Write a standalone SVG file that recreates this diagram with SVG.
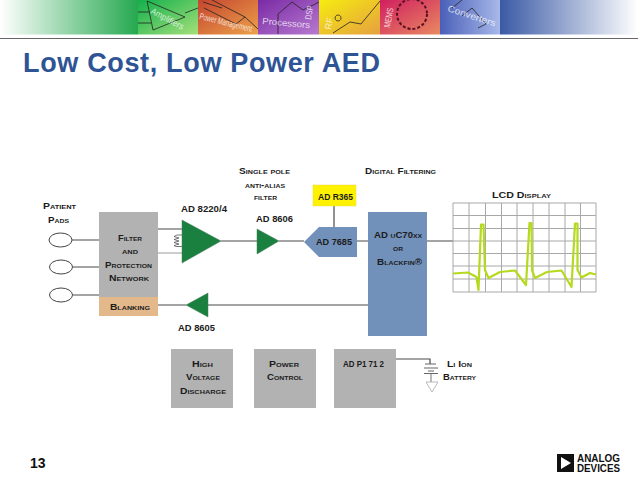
<svg xmlns="http://www.w3.org/2000/svg" width="638" height="478" viewBox="0 0 638 478">
<style>
text{font-family:"Liberation Sans",Arial,sans-serif}
.l{font-size:8.5px;font-weight:700;font-variant:small-caps;fill:#1c1c1c;text-anchor:start}
.b{fill:#b2b2b2}
.g{fill:#1a8040;stroke:#4f7f5f;stroke-width:.5}
.w{stroke:#4a4a4a;stroke-width:1.2;fill:none}
.lw{stroke:#9a9a9a;stroke-width:1;fill:none}
.bn{font-size:9px;fill:#fff;fill-opacity:.75;font-weight:400}
.bl{stroke:#222;stroke-width:.8;fill:none}
</style>
<defs>
<linearGradient id="gl"><stop offset="0" stop-color="#fff"/><stop offset="1" stop-color="#25a84f"/></linearGradient>
<linearGradient id="gr"><stop offset="0" stop-color="#3a5aa5"/><stop offset="1" stop-color="#fff"/></linearGradient>
<linearGradient id="g1" x2="1" y2="1"><stop offset="0" stop-color="#12b04c"/><stop offset="1" stop-color="#a5e07a"/></linearGradient>
<linearGradient id="g2" x2="1" y2="1"><stop offset="0" stop-color="#c4452f"/><stop offset="1" stop-color="#eda24a"/></linearGradient>
<linearGradient id="g3" x2="1" y2="1"><stop offset="0" stop-color="#7a2aa5"/><stop offset="1" stop-color="#b77ad0"/></linearGradient>
<linearGradient id="g4" x2="1" y2="1"><stop offset="0" stop-color="#f6ec10"/><stop offset="1" stop-color="#e5a040"/></linearGradient>
<linearGradient id="g5" x2="1" y2="1"><stop offset="0" stop-color="#d01f60"/><stop offset="1" stop-color="#e88a60"/></linearGradient>
<linearGradient id="g6" x2="1" y2="0"><stop offset="0" stop-color="#4a60b8"/><stop offset="1" stop-color="#a8b8ea"/></linearGradient>
</defs>
<rect width="638" height="478" fill="#fff"/>
<g id="banner">
<rect x="0" y="0" width="138" height="34.500" fill="url(#gl)"/>
<rect x="138" y="0" width="60" height="34.500" fill="url(#g1)"/>
<rect x="198" y="0" width="60" height="34.500" fill="url(#g2)"/>
<rect x="258" y="0" width="61" height="34.500" fill="url(#g3)"/>
<rect x="319" y="0" width="61" height="34.500" fill="url(#g4)"/>
<rect x="380" y="0" width="60" height="34.500" fill="url(#g5)"/>
<rect x="440" y="0" width="60" height="34.500" fill="url(#g6)"/>
<rect x="500" y="0" width="138" height="34.500" fill="url(#gr)"/>
<path class="bl" d="M147 1L185 17L153 30ZM138 12H150M138 23H151M185 13L198 8"/>
<path class="bl" d="M203 2L222 8M212 0L245 17L236 24L204 8M245 17L258 29"/>
<path class="bl" d="M278 14L292 2L303 10M303 10L319 2M278 14V34"/>
<path class="bl" d="M333 33L350 22L361 24L380 1M338 15a3 3 0 1 0 .1 0"/>
<circle cx="412" cy="14" r="15" fill="none" stroke="#5a1020" stroke-width="2" stroke-dasharray="3 2"/>
<path class="bl" d="M452 8L462 0M462 16L472 8L486 24L478 28"/>
<text class="bn" transform="translate(150,13) rotate(28)" textLength="36" lengthAdjust="spacingAndGlyphs">Amplifiers</text>
<text class="bn" transform="translate(199,19) rotate(14)" textLength="54" lengthAdjust="spacingAndGlyphs">Power Management</text>
<text class="bn" transform="translate(262,24) rotate(5)" textLength="48" lengthAdjust="spacingAndGlyphs">Processors</text>
<text class="bn" transform="translate(311,20) rotate(-80)" textLength="14" lengthAdjust="spacingAndGlyphs">DSP</text>
<text class="bn" transform="translate(331,30) rotate(-80)" textLength="12" lengthAdjust="spacingAndGlyphs">RF</text>
<text class="bn" transform="translate(390,28) rotate(-80)" textLength="20" lengthAdjust="spacingAndGlyphs">MEMS</text>
<text class="bn" transform="translate(447,11) rotate(18)" textLength="50" lengthAdjust="spacingAndGlyphs">Converters</text>
</g>
<path d="M0 38.500H638" stroke="#666" stroke-width="1.200"/>
<text id="title" x="23" y="72" font-size="27" font-weight="700" fill="#2f5496" textLength="357" lengthAdjust="spacing">Low Cost, Low Power AED</text>

<g id="connectors">
<path class="w" d="M72 240H99M73 267H99M73 295H99M158 229H182M221 241H257M279 241H304M334 206V227M357 241H368M427 241H453M158 305H186M208 305H368M396 359H430V364"/>
<path class="lw" d="M158 253H182" stroke-width="1.5"/>
<path d="M182 235H177l-3 1.500 5 1.500-5 1.500 5 1.500-5 1.500 5 1.500-5 1.500 2 1H182" fill="none" stroke="#555" stroke-width=".8"/>
</g>

<g id="pads" fill="#fff" stroke="#444" stroke-width="1">
<ellipse id="pad1" cx="60.500" cy="240" rx="11.500" ry="7"/>
<ellipse id="pad2" cx="61" cy="267" rx="11.500" ry="7"/>
<ellipse id="pad3" cx="61" cy="295" rx="11.500" ry="7"/>
</g>
<g id="label-patient">
<text class="l" x="43" y="209" textLength="33" lengthAdjust="spacingAndGlyphs">Patient</text>
<text class="l" x="48" y="223" textLength="21" lengthAdjust="spacingAndGlyphs">Pads</text>
</g>
<g id="filter">
<rect class="b" x="99" y="212" width="59" height="85"/>
<text class="l" x="118" y="241" textLength="24" lengthAdjust="spacingAndGlyphs">Filter</text>
<text class="l" x="122" y="254" textLength="16" lengthAdjust="spacingAndGlyphs">and</text>
<text class="l" x="105" y="268" textLength="47" lengthAdjust="spacingAndGlyphs">Protection</text>
<text class="l" x="109" y="281" textLength="40" lengthAdjust="spacingAndGlyphs">Network</text>
</g>
<g id="blanking">
<rect x="99" y="297" width="59" height="19" fill="#e3b98c"/>
<text class="l" x="110" y="310" textLength="40" lengthAdjust="spacingAndGlyphs">Blanking</text>
</g>
<g id="ad8220">
<polygon class="g" points="182,220 221,241 182,263"/>
<text class="l" x="181" y="212" textLength="46" lengthAdjust="spacingAndGlyphs">AD 8220/4</text>
</g>
<g id="ad8605">
<polygon class="g" points="186,305 208,293 208,317"/>
<text class="l" x="178" y="331" textLength="37" lengthAdjust="spacingAndGlyphs">AD 8605</text>
</g>
<g id="ad8606">
<polygon class="g" points="257,229 279,241 257,254"/>
<text class="l" x="239" y="174" textLength="51" lengthAdjust="spacingAndGlyphs">Single pole</text>
<text class="l" x="245" y="188" textLength="40" lengthAdjust="spacingAndGlyphs">anti-alias</text>
<text class="l" x="254" y="200" textLength="23" lengthAdjust="spacingAndGlyphs">filter</text>
<text class="l" x="256" y="222" textLength="37" lengthAdjust="spacingAndGlyphs">AD 8606</text>
</g>
<g id="adr365">
<rect x="313" y="185" width="43" height="21" fill="#fff200" stroke="#e8dc50" stroke-width=".5"/>
<text class="l" x="318" y="200" textLength="35" lengthAdjust="spacingAndGlyphs">AD R365</text>
</g>
<g id="ad7685">
<polygon points="304,242 319,227 357,227 357,257 319,257" fill="#7190ba"/>
<text class="l" x="316" y="245" textLength="36" lengthAdjust="spacingAndGlyphs">AD 7685</text>
</g>
<g id="dsp">
<rect x="368" y="212" width="59" height="124" fill="#7190ba"/>
<text class="l" x="365" y="174" textLength="71" lengthAdjust="spacingAndGlyphs">Digital Filtering</text>
<text class="l" x="374" y="238" textLength="48" lengthAdjust="spacingAndGlyphs">AD uC70xx</text>
<text class="l" x="393" y="251" textLength="10" lengthAdjust="spacingAndGlyphs">or</text>
<text class="l" x="377" y="265" textLength="45" lengthAdjust="spacingAndGlyphs">Blackfin®</text>
</g>
<g id="lcd">
<text class="l" x="492" y="198" textLength="59" lengthAdjust="spacingAndGlyphs">LCD Display</text>
<rect x="453" y="203" width="143" height="89" fill="#fff"/>
<path d="M453 203V292M469 203V292M485.500 203V292M501.500 203V292M517 203V292M533 203V292M549 203V292M565 203V292M580.500 203V292M596 203V292M453 203H596M453 215.500H596M453 228.500H596M453 241H596M453 253.500H596M453 266H596M453 279H596M453 292H596" fill="none" stroke="#a8a8a8" stroke-width="1"/>
<path d="M453 273.500L468 272.500L476.500 277L478.500 290L481 224.500H483.500L485 270L488.500 278L500 272L515 270.500L526 285L529.500 223H531.500L532 270L535 278L547 272L561.500 270.500L571.500 287L575 223.500H577.500L577.500 270L581.500 277.500L590 273L596 274.500" fill="none" stroke="#b5d91f" stroke-width="2.200" stroke-linejoin="round"/>
</g>
<g id="hv">
<rect class="b" x="171" y="349" width="62" height="59"/>
<text class="l" x="192" y="367" textLength="21" lengthAdjust="spacingAndGlyphs">High</text>
<text class="l" x="186" y="380" textLength="34" lengthAdjust="spacingAndGlyphs">Voltage</text>
<text class="l" x="180" y="394" textLength="46" lengthAdjust="spacingAndGlyphs">Discharge</text>
</g>
<g id="power">
<rect class="b" x="254" y="349" width="62" height="59"/>
<text class="l" x="269" y="367" textLength="30" lengthAdjust="spacingAndGlyphs">Power</text>
<text class="l" x="267" y="380" textLength="36" lengthAdjust="spacingAndGlyphs">Control</text>
</g>
<g id="adp1712">
<rect class="b" x="334" y="349" width="62" height="59"/>
<text class="l" x="343" y="367" textLength="41" lengthAdjust="spacingAndGlyphs">AD P1 71 2</text>
</g>
<g id="battery">
<path d="M425 364H436M424 368H438M428 371H434M424 373.500H438" fill="none" stroke="#666" stroke-width="1"/>
<path d="M431 374V382" stroke="#777" stroke-width="1"/>
<polygon points="426,382 438,382 432,392" fill="#fff" stroke="#aaa" stroke-width=".8"/>
<text class="l" x="447" y="367" textLength="25" lengthAdjust="spacingAndGlyphs">Li Ion</text>
<text class="l" x="443" y="380" textLength="33" lengthAdjust="spacingAndGlyphs">Battery</text>
</g>
<text id="page" x="30" y="468" font-size="14" font-weight="700" fill="#111">13</text>
<g id="logo">
<rect x="557" y="454" width="17" height="18" fill="#111"/>
<polygon points="561,457 571,463 561,469" fill="#fff"/>
<text x="577" y="462" font-size="10" font-weight="700" fill="#111" textLength="43" lengthAdjust="spacingAndGlyphs">ANALOG</text>
<text x="577" y="472" font-size="10" font-weight="700" fill="#111" textLength="43" lengthAdjust="spacingAndGlyphs">DEVICES</text>
</g>
</svg>
